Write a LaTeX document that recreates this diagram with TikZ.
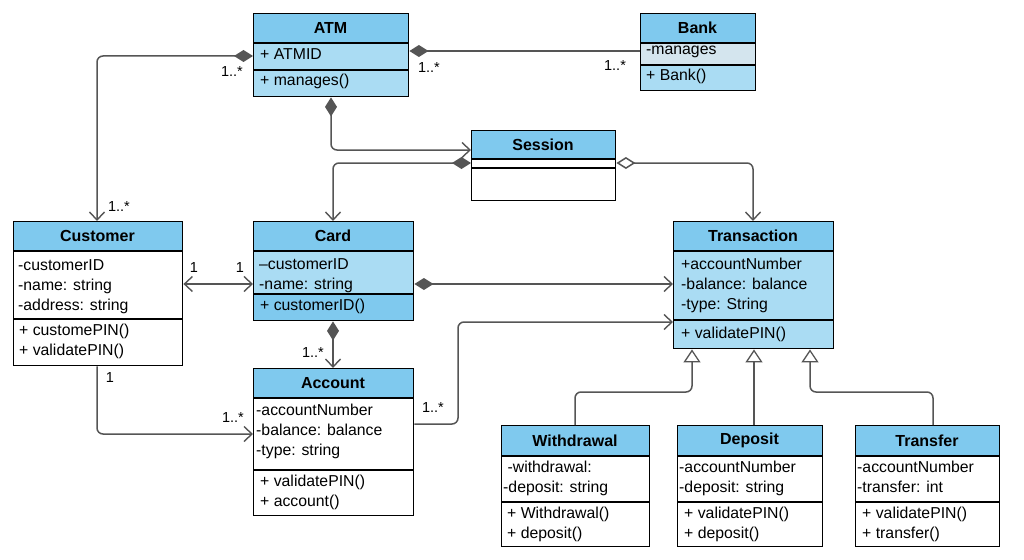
\documentclass[tikz,border=0pt]{standalone}
\usepackage{fontspec}
\setmainfont{Liberation Sans}
\usetikzlibrary{arrows.meta}
\definecolor{hdr}{HTML}{7FC9EE}
\definecolor{lb}{HTML}{AADCF3}
\definecolor{gr}{HTML}{D4E5EE}
\definecolor{ln}{HTML}{555555}
\tikzset{
  x=1pt,y=-1pt,
  frame/.style={draw=black,line width=1.4pt,inner sep=0,anchor=north west},
  sep/.style={draw=black,line width=1.3pt},
  ttl/.style={font=\fontsize{16}{17}\selectfont\bfseries},
  txt/.style={anchor=north west,align=left,inner sep=0,font=\fontsize{15.8}{20}\selectfont},
  con/.style={draw=ln,line width=1.5pt,rounded corners=6pt},
  Op/.tip={Straight Barb[length=8pt,width=15pt,line width=1.4pt]},
  Dm/.tip={Diamond[length=19pt,width=12pt,fill=ln]},
  Od/.tip={Diamond[open,length=19pt,width=12pt,fill=white]},
  open/.style={-Op},
  dia/.style={Dm-},
  diaopen/.style={Dm-Op},
  odiaopen/.style={Od-Op},
  gen/.style={-{Triangle[open,length=13pt,width=17pt,fill=white,line width=1.3pt]}},
  lbl/.style={font=\fontsize{14.5}{15}\selectfont,inner sep=0}
}
\newcommand\UB[8]{%
  \node[frame,minimum width=#3-#2,minimum height=#7-#4] (#1) at (#2,#4) {};
  \draw[sep] (#2,#5)--(#3,#5) (#2,#6)--(#3,#6);
  \node[ttl] at ({(#2+#3)/2},{(#4+#5)/2}) {#8};}
\newcommand\FB[9]{%
  \fill[hdr] (#2,#4) rectangle (#3,#5);
  \fill[#8] (#2,#5) rectangle (#3,#6);
  \fill[#9] (#2,#6) rectangle (#3,#7);}
\begin{document}
\begin{tikzpicture}
\useasboundingbox (0,0) rectangle (1024,559);
\fill[white] (0,0) rectangle (1024,559);
\FB{atm}{253}{408}{13}{43}{70}{96}{lb}{lb}
\FB{bank}{640}{755}{13}{43}{65}{90}{gr}{lb}
\FB{ses}{471}{615}{130}{159}{168}{200}{white}{white}
\FB{cus}{13}{182}{221}{251}{319}{365}{white}{white}
\FB{card}{253}{413}{221}{251}{294}{320}{lb}{hdr}
\FB{tr}{673}{833}{221}{251}{320}{348}{lb}{lb}
\FB{acc}{253}{413}{368}{398}{470}{515}{white}{white}
\FB{wd}{501}{649}{425}{456}{502}{546}{white}{white}
\FB{dep}{677}{822}{425}{456}{502}{546}{white}{white}
\FB{tf}{855}{999}{425}{456}{502}{546}{white}{white}
\UB{atm}{253}{408}{13}{43}{70}{96}{ATM}
\UB{bank}{640}{755}{13}{43}{65}{90}{Bank}
\UB{ses}{471}{615}{130}{159}{168}{200}{Session}
\UB{cus}{13}{182}{221}{251}{319}{365}{Customer}
\UB{card}{253}{413}{221}{251}{294}{320}{Card}
\UB{tr}{673}{833}{221}{251}{320}{348}{Transaction}
\UB{acc}{253}{413}{368}{398}{470}{515}{Account}
\UB{wd}{501}{649}{425}{456}{502}{546}{Withdrawal}
\UB{dep}{677}{822}{425}{456}{502}{546}{Deposit}
\UB{tf}{855}{999}{425}{456}{502}{546}{Transfer}
\node[txt] (t1) at (260,48) {+ ATMID};
\node[txt] (t2) at (260,74) {+ manages()};
\node[txt] (t3) at (646,46) {-manages};
\node[txt] (t4) at (646,69) {+ Bank()};
\node[txt] (t5) at (18,259) {-customerID\\-name: string\\-address: string};
\node[txt] (t6) at (19,324) {+ customePIN()\\+ validatePIN()};
\node[txt] (t7) at (259,258) {–customerID\\-name: string};
\node[txt] (t8) at (260,299) {+ customerID()};
\node[txt] (t9) at (681,258) {+accountNumber\\-balance: balance\\-type: String};
\node[txt] (t10) at (681,327) {+ validatePIN()};
\node[txt] (t11) at (256,404) {-accountNumber\\-balance: balance\\-type: string};
\node[txt] (t12) at (260,475) {+ validatePIN()\\+ account()};
\node[txt] (t13) at (503,461) {\ -withdrawal:\\-deposit: string};
\node[txt] (t14) at (507,507) {+ Withdrawal()\\+ deposit()};
\node[txt] (t15) at (679,461) {-accountNumber\\-deposit: string};
\node[txt] (t16) at (684,507) {+ validatePIN()\\+ deposit()};
\node[txt] (t17) at (857,461) {-accountNumber\\-transfer: int};
\node[txt] (t18) at (862,507) {+ validatePIN()\\+ transfer()};
\coordinate (c1) at (97,56);
\draw[con,diaopen] (atm.west |- c1) -| (cus.north -| c1);
\draw[con,dia] (atm.east |- 0,51) -- (bank.west |- 0,51);
\draw[con,diaopen] (atm.south -| 331,0) |- (ses.west |- 0,150);
\draw[con,diaopen] (ses.west |- 0,163) -| (card.north -| 333,0);
\draw[con,odiaopen] (ses.east |- 0,163) -| (tr.north -| 753,0);
\draw[con,Op-Op] (cus.east |- 0,284) -- (card.west |- 0,284);
\draw[con,diaopen] (card.east |- 0,284) -- (tr.west |- 0,284);
\draw[con,diaopen] (card.south -| 333,0) -- (acc.north -| 333,0);
\draw[con,open] (cus.south -| 97,0) |- (acc.west |- 0,434);
\draw[con,open] (acc.east |- 0,424) -| (458,322) -- (tr.west |- 0,322);
\draw[con,gen] (wd.north -| 575,0) |- (692,392) -- (tr.south -| 692,0);
\draw[con,gen] (dep.north -| 754,0) -- (tr.south -| 754,0);
\draw[con,gen] (tf.north -| 933,0) |- (810,392) -- (tr.south -| 810,0);
\node[lbl] (l1) at (232,72) {1..*};
\node[lbl] (l2) at (119,207) {1..*};
\node[lbl] (l3) at (429,68) {1..*};
\node[lbl] (l4) at (615,66) {1..*};
\node[lbl] (l5) at (194,268) {1};
\node[lbl] (l6) at (240,268) {1};
\node[lbl] (l7) at (313,353) {1..*};
\node[lbl] (l8) at (110,378) {1};
\node[lbl] (l9) at (233,418) {1..*};
\node[lbl] (l10) at (433,408) {1..*};
\end{tikzpicture}
\end{document}
